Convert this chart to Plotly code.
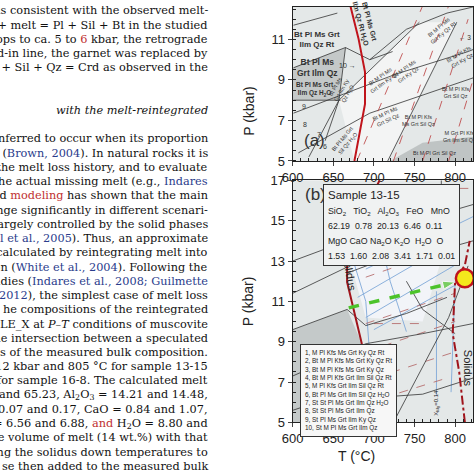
import plotly.graph_objects as go

# ---------------- data ----------------
text_lines = [
 "is consistent with the observed melt-",
 "s + melt = Pl + Sil + Bt in the studied",
 "e drops to ca. 5 to <span style='color:#c03030'>6</span> kbar, the retrograde",
 "Crd-in line, the garnet was replaced by",
 "rt + Sil + Qz = Crd as observed in the",
 "",
 "",
 "<i>with the melt-reintegrated</i>",
 "",
 "s is inferred to occur when its proportion",
 "ld (<span style='color:#2a3c8c'>Brown, 2004</span>). In natural rocks it is",
 "ack the melt loss history, and to evaluate",
 "of the actual missing melt (e.g., <span style='color:#2a3c8c'>Indares</span>",
 "rd <span style='color:#c03030'>modeling</span> has shown that the main",
 "change significantly in different scenari-",
 "re largely controlled by the solid phases",
 "<span style='color:#2a3c8c'>well et al., 2005</span>). Thus, an approximate",
 "e calculated by reintegrating melt into",
 "ion (<span style='color:#2a3c8c'>White et al., 2004</span>). Following the",
 "studies (<span style='color:#2a3c8c'>Indares et al., 2008; Guilmette</span>",
 "<span style='color:#2a3c8c'>2012</span>), the simplest case of melt loss",
 "he compositions of the reintegrated",
 "RPLE_X at <i>P–T</i> conditions of muscovite",
 "the intersection between a speculated",
 "idus of the measured bulk composition.",
 "ca. 12 kbar and 805 °C for sample 13-15",
 "for sample 16-8. The calculated melt",
 "20 and 65.23, Al<sub>2</sub>O<sub>3</sub> = 14.21 and 14.48,",
 "= 0.07 and 0.17, CaO = 0.84 and 1.07,",
 "= 6.56 and 6.88, <span style='color:#c03030'>and</span> H<sub>2</sub>O = 8.80 and",
 "The volume of melt (14 wt.%) with that",
 "ing the solidus down temperatures to",
 "se then added to the measured bulk",
]

# panel (a) curves: (T list, P list)
a_solidus_T = [676, 689, 689, 681, 671]
a_solidus_P = [5, 7.8, 9.4, 11.05, 12.66]
a_black = [
 ([717, 802], [5, 11.85]),
 ([601, 728, 816, 822], [7.36, 9.3, 10.4, 10.5]),
 ([601, 659], [8, 8]),
 ([601, 665, 695, 723], [9.6, 10.6, 10.0, 10.4]),
 ([665, 657], [10.6, 8]),
 ([607, 695, 822], [5.4, 7.36, 9.1]),
 ([657, 756], [8, 11.85]),
 ([601, 655], [11.7, 12.3]),
 ([640, 657], [6.0, 8]),
 ([620, 657], [5.2, 8]),
 ([695, 740, 790, 822], [10.0, 11.5, 12.3, 12.6]),
]
a_reddash = [
 ([679, 760], [5, 12.66]),
 ([724, 792], [5, 12.66]),
 ([760, 816], [5, 12.0]),
 ([792, 822], [5, 9.0]),
]
a_dark_T = [720, 760, 822, 822]
a_dark_P = [5, 5.9, 6.2, 5]

# panel (b) curves
b_solidus_T = [689, 685, 667, 667, 673, 690, 707]
b_solidus_P = [5, 8.92, 11.96, 13.56, 14.2, 15.6, 17]
b_solidus2_T = [812, 805, 797, 800, 812, 818]
b_solidus2_P = [5, 7.5, 9.4, 12.0, 12.8, 14]
b_black = [
 ([724, 792, 816], [5, 10.2, 12.76]),
 ([600, 667], [11.4, 12.7]),
 ([600, 667], [9.6, 10.6]),
 ([600, 690, 760, 822], [7.3, 8.9, 9.4, 9.9]),
 ([600, 667, 720, 822], [13.0, 14.0, 14.6, 15.8]),
 ([667, 700, 760, 822], [12.4, 12.9, 13.3, 14.0]),
 ([667, 690, 740, 790], [10.6, 9.8, 10.4, 11.2]),
 ([600, 690], [5.6, 6.8]),
 ([690, 760, 822], [6.2, 6.4, 7.2]),
 ([740, 760, 800], [12.0, 10.6, 9.4]),
 ([783, 783], [13.6, 17]),
]
b_blue = [
 ([667, 690, 700], [14.0, 11.0, 5.5]),
 ([700, 720, 740], [15.5, 12.0, 9.5]),
 ([680, 800], [11.2, 14.0]),
 ([690, 800], [10.2, 12.8]),
 ([700, 800], [9.6, 11.8]),
 ([690, 822], [12.6, 15.2]),
 ([777, 777], [6.3, 11.5]),
 ([795, 800], [6.5, 12.0]),
 ([700, 790], [13.5, 15.0]),
]
b_reddash = [
 ([690, 800], [9.9, 11.4]),
 ([690, 800], [8.5, 10.0]),
 ([700, 800], [7.2, 8.5]),
 ([710, 790], [6.2, 7.2]),
 ([700, 790], [13.3, 14.8]),
 ([690, 790], [12.2, 13.6]),
 ([783, 822], [16.6, 16.6]),
 ([700, 760], [9.9, 9.9]),
]
b_dark_T = [600, 689, 685, 667, 600]
b_dark_P = [5, 5, 8.92, 10.6, 9.6]
arrow_T = [669, 800]
arrow_P = [10.68, 11.95]
star_T = [812]
star_P = [12.15]

legend_entries = [
 "1, M Pl Kfs Ms Grt Ky Qz Rt",
 "2, Bt M Pl Kfs Ms Grt Ky Qz Rt",
 "3, Bt M Pl Kfs Ms Grt Ky Qz",
 "4, Bt M Pl Kfs Grt Ilm Sil Qz Rt",
 "5, M Pl Kfs Grt Ilm Sil Qz Rt",
 "6, Bt Pl Ms Grt Ilm Sil Qz H<sub>2</sub>O",
 "7, St St Pl Ms Grt Ilm Qz H<sub>2</sub>O",
 "8, St St Pl Ms Grt Ilm Qz",
 "9, St Pl Ms Grt Ilm Ky Qz",
 "10, St M Pl Ms Grt Ilm Qz",
]
x_ticks = [600, 650, 700, 750, 800]
a_yticks = [5, 7, 9, 11]
b_yticks = [5, 7, 9, 11, 13, 15, 17]

# ---------------- figure ----------------
fig = go.Figure()

def line(T, P, ax, color, width=1, dash="solid"):
    fig.add_trace(go.Scatter(x=T, y=P, mode="lines", xaxis=ax[0], yaxis=ax[1],
                             line=dict(color=color, width=width, dash=dash),
                             showlegend=False, hoverinfo="skip"))

def poly(T, P, ax, color):
    fig.add_trace(go.Scatter(x=T, y=P, mode="lines", fill="toself", fillcolor=color,
                             xaxis=ax[0], yaxis=ax[1], line=dict(width=0),
                             showlegend=False, hoverinfo="skip"))

A = ("x", "y"); B = ("x2", "y2")
poly(a_dark_T, a_dark_P, A, "#bfc4c4")
poly([600, 665, 657, 600], [9.6, 10.6, 8, 8], A, "#c4c8c8")
poly([657, 756, 802, 717, 676], [8, 11.85, 11.85, 5, 5], A, "#f3f4f4")
poly(b_dark_T, b_dark_P, B, "#c4c9c9")
poly([667, 720, 790, 760, 690], [13.5, 14.6, 14.0, 10.0, 10.2], B, "#f2f4f8")
for T, P in a_black: line(T, P, A, "#333", 0.8)
for T, P in a_reddash: line(T, P, A, "#c05050", 0.9, "dash")
line(a_solidus_T, a_solidus_P, A, "#c0141c", 2)
for T, P in b_blue: line(T, P, B, "#7fa8d8", 0.9)
for T, P in b_reddash: line(T, P, B, "#b06060", 0.8, "dash")
for T, P in b_black: line(T, P, B, "#333", 0.8)
line(b_solidus_T, b_solidus_P, B, "#a0141c", 2)
line(b_solidus2_T, b_solidus2_P, B, "#a0141c", 2, "dashdot")
fig.add_trace(go.Scatter(x=arrow_T, y=arrow_P, mode="lines+markers", xaxis="x2", yaxis="y2",
                         line=dict(color="#4cc32a", width=3.5, dash="dash"),
                         marker=dict(symbol="arrow", angleref="previous", size=[0, 13], color="#4cc32a"),
                         showlegend=False, hoverinfo="skip"))
fig.add_trace(go.Scatter(x=star_T, y=star_P, mode="markers", xaxis="x2", yaxis="y2",
                         marker=dict(size=18, color="#f4e81c", line=dict(color="#c0141c", width=2.5)),
                         showlegend=False, hoverinfo="skip"))

ax_common = dict(range=[600, 822], tickvals=x_ticks, ticks="outside", ticklen=4,
                 showgrid=False, zeroline=False, showline=True, linecolor="#222", mirror=True,
                 tickfont=dict(family="Liberation Sans", size=13, color="#222"),
                 minor=dict(dtick=10, ticks="inside", ticklen=3, tickcolor="#222"))
ay_common = dict(ticks="outside", ticklen=4, showgrid=False, zeroline=False, showline=True,
                 linecolor="#222", mirror=True,
                 tickfont=dict(family="Liberation Sans", size=13, color="#222"),
                 minor=dict(dtick=0.5, ticks="inside", ticklen=3, tickcolor="#222"))
fig.update_layout(
    width=474, height=474, margin=dict(l=0, r=0, t=0, b=0),
    paper_bgcolor="white", plot_bgcolor="#e4e8e8",
    xaxis=dict(domain=[289/474, 1], anchor="y", **ax_common),
    yaxis=dict(domain=[1-159/474, 1], range=[5, 12.6], tickvals=a_yticks, anchor="x", **ay_common),
    xaxis2=dict(domain=[289/474, 1], anchor="y2", **ax_common),
    yaxis2=dict(domain=[1-429/474, 1-179/474], range=[5, 17], tickvals=b_yticks, anchor="x2", **ay_common),
)

ann = []
y0 = 4
for i, t in enumerate(text_lines):
    if not t: continue
    ann.append(dict(xref="paper", yref="paper", x=204/474, y=1-(y0+i*14.7)/474,
                    xanchor="right", yanchor="middle", showarrow=False, text=t,
                    font=dict(family="DejaVu Serif", size=11.3, color="#111")))
for ytop, ybot in [(0, 159), (179, 429)]:
    ann.append(dict(xref="paper", yref="paper", x=244/474, y=1-((ytop+ybot)/2)/474, text="P (kbar)",
                    textangle=-90, showarrow=False, font=dict(family="Liberation Sans", size=14, color="#222")))
ann.append(dict(xref="paper", yref="paper", x=375/474, y=0.5/474, yanchor="bottom", text="T (°C)", showarrow=False,
                font=dict(family="Liberation Sans", size=14, color="#222")))

def t(xr, yr, x, y, s, size=7, angle=0, bold=False, color="#333", **kw):
    ann.append(dict(xref=xr, yref=yr, x=x, y=y, text=("<b>%s</b>" % s) if bold else s, textangle=angle,
                    showarrow=False, font=dict(family="Liberation Sans", size=size, color=color), **kw))

t("x", "y", 612, 6.0, "(a)", 17, xanchor="left")
t("x", "y", 630, 11.0, "Bt Pl Ms Grt<br>Ilm Qz Rt", 8, bold=True)
t("x", "y", 630, 9.6, "Bt Pl Ms<br>Grt Ilm Qz", 8.5, bold=True)
t("x", "y", 628, 8.55, "Bt Pl Ms Grt<br>Ilm Qz H<sub>2</sub>O", 6.5, bold=True)
t("x", "y", 614, 7.7, "9"); t("x", "y", 615, 6.8, "8"); t("x", "y", 633, 6.3, "7"); t("x", "y", 640, 5.7, "6")
t("x", "y", 668, 9.7, "10 →")
t("x", "y", 665, 6.0, "Bt Pl Ms Grt<br>Sil Qz H<sub>2</sub>O", 5.5, angle=-50)
t("x", "y", 660, 8.5, "Bt Pl Ms<br>Grt Ilm Ky<br>Qz H<sub>2</sub>O", 5.5, angle=-60)
t("x", "y", 688, 11.8, "Bt Pl Ms Grt<br>Ilm Qz Rt H<sub>2</sub>O", 7, angle=75, bold=True)
t("x", "y", 710, 9.0, "Bt M Pl Ms<br>Grt Ilm Ky Qz", 5.5, angle=-35)
t("x", "y", 740, 9.4, "Bt M Pl Ms<br>Grt Ky Qz", 5.5, angle=-35)
t("x", "y", 716, 7.2, "Bt M Pl Ms<br>Grt Sil Qz", 5.5, angle=-25)
t("x", "y", 755, 7.0, "Bt M Pl Kfs<br>Ms Grt Sil Qz", 5.5)
t("x", "y", 800, 8.4, "Bt M Pl Kfs<br>Grt Sil Qz", 5.5)
t("x", "y", 775, 5.4, "Bt M Pl Grt Sil Qz", 5.5)
t("x", "y", 805, 6.2, "M Grt Pl Kfs<br>Grt Ilm Sil Qz", 5.5)
t("x", "y", 783, 11.5, "Bt M Pl Ms<br>Grt Ky Qz Rt", 5.5, angle=-40)
t("x", "y", 806, 10.1, "Bt M Pl Kfs<br>Grt Ky Qz", 5.5, angle=-30)
t("x", "y", 812, 11.1, "← 3", 6.5)

t("x2", "y2", 613, 16.3, "(b)", 17, xanchor="left")
t("x2", "y2", 670, 12.4, "Solidus", 11, angle=80, color="#222")
t("x2", "y2", 816, 7.7, "Solidus", 11, angle=90, color="#222")
t("x2", "y2", 777, 6.0, "X<sub>Mg</sub>=0.14", 6, angle=-90, color="#222")
ann.append(dict(xref="x2", yref="y2", x=637, y=16.8, xanchor="left", yanchor="top", align="left",
                text="Sample 13-15<br><span style='font-size:8.8px'>SiO<sub>2</sub>   TiO<sub>2</sub>   Al<sub>2</sub>O<sub>3</sub>   FeO   MnO<br>62.19  0.78  20.13  6.46  0.11<br>MgO CaO Na<sub>2</sub>O K<sub>2</sub>O  H<sub>2</sub>O  O<br>1.53  1.60  2.08  3.41  1.71  0.01</span>",
                showarrow=False, bgcolor="#f0f2f2", bordercolor="#333", borderwidth=1, borderpad=4,
                font=dict(family="Liberation Sans", size=11.5, color="#222")))
ann.append(dict(xref="x2", yref="y2", x=609, y=8.9, xanchor="left", yanchor="top", align="left",
                text="<br>".join(legend_entries), showarrow=False, bgcolor="#f7f7f7",
                bordercolor="#333", borderwidth=1, borderpad=4,
                font=dict(family="Liberation Sans", size=6.4, color="#222")))
fig.update_layout(annotations=ann)
fig.write_html("out.html", config={"displayModeBar": False})
with open("out.html", encoding="utf-8") as f:
    html = f.read()
html = html.replace("<head>", "<head><style>html,body{margin:0;padding:0;overflow:hidden}</style>", 1)
with open("out.html", "w", encoding="utf-8") as f:
    f.write(html)
